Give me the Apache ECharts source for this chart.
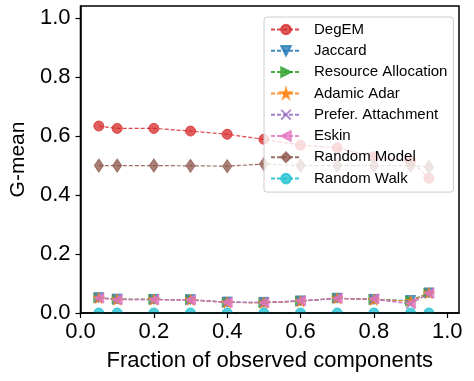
<!DOCTYPE html>
<html><head><meta charset="utf-8">
<script src="https://cdn.jsdelivr.net/npm/echarts@6/dist/echarts.min.js"></script>
<style>html,body{margin:0;padding:0;background:#fff}#c{width:474px;height:381px}</style>
</head><body><div id="c"></div>
<script>
const xValues = [0.05, 0.1, 0.2, 0.3, 0.4, 0.5, 0.6, 0.7, 0.8, 0.9, 0.95];
const degem = [0.634, 0.626, 0.626, 0.617, 0.606, 0.589, 0.569, 0.560, 0.530, 0.516, 0.457];
const jaccard = [0.052, 0.047, 0.046, 0.045, 0.037, 0.036, 0.041, 0.050, 0.046, 0.042, 0.068];
const resourceAllocation = [0.051, 0.046, 0.046, 0.045, 0.036, 0.035, 0.040, 0.050, 0.045, 0.041, 0.068];
const adamicAdar = [0.051, 0.046, 0.046, 0.045, 0.036, 0.035, 0.040, 0.050, 0.045, 0.041, 0.068];
const preferAttachment = [0.051, 0.046, 0.045, 0.044, 0.036, 0.036, 0.040, 0.050, 0.047, 0.030, 0.067];
const eskin = [0.051, 0.045, 0.045, 0.044, 0.036, 0.035, 0.042, 0.049, 0.048, 0.033, 0.067];
const randomModel = [0.500, 0.500, 0.500, 0.499, 0.498, 0.505, 0.500, 0.500, 0.500, 0.500, 0.495];
const randomWalk = [0, 0, 0, 0, 0, 0, 0, 0, 0, 0, 0];
const xTicks = [0, 0.2, 0.4, 0.6, 0.8, 1.0];
const yTicks = [0, 0.2, 0.4, 0.6, 0.8, 1.0];

const STAR = 'path://M50,0L61,35L98,35L68,57L79,91L50,70L21,91L32,57L2,35L39,35Z';
const XMARK = 'path://M0,0L10,10M10,0L0,10';

function mk(name, data, color, symbol, size, rotate, extra) {
  const s = {
    name: name, type: 'line',
    data: xValues.map((x, i) => [x, data[i]]),
    symbol: symbol, symbolSize: size, symbolRotate: rotate || 0,
    showAllSymbol: true,
    lineStyle: { color: color, width: 1.2, type: [4, 2], opacity: 0.85 },
    itemStyle: { color: color, borderColor: color, borderWidth: 1, opacity: 0.75 },
    emphasis: { disabled: true },
    animation: false
  };
  if (extra) Object.assign(s.itemStyle, extra);
  return s;
}

const chart = echarts.init(document.getElementById('c'), null, { renderer: 'canvas' });
chart.setOption({
  animation: false,
  textStyle: { fontFamily: 'Liberation Sans, Arial, sans-serif' },
  grid: { left: 76, right: 15, top: 6, bottom: 68, show: true, borderColor: '#000', borderWidth: 1.5, backgroundColor: 'transparent' },
  xAxis: {
    type: 'value', min: 0, max: 1.032, z: 200,
    name: 'Fraction of observed components', nameLocation: 'middle', nameGap: 37,
    nameTextStyle: { fontSize: 22, color: '#000', fontFamily: 'Liberation Sans' },
    axisLine: { show: true, lineStyle: { color: '#000', width: 1.5 } },
    axisTick: { show: true, length: 5, lineStyle: { color: '#000', width: 1.2 }, customValues: xTicks },
    axisLabel: { fontSize: 22, color: '#000', margin: 8, fontFamily: 'Liberation Sans', customValues: xTicks, formatter: v => v.toFixed(1) },
    splitLine: { show: false }
  },
  yAxis: {
    type: 'value', min: 0, max: 1.041, z: 200,
    name: 'G-mean', nameLocation: 'middle', nameGap: 51, nameRotate: 90,
    nameTextStyle: { fontSize: 21, color: '#000', fontFamily: 'Liberation Sans' },
    axisLine: { show: true, lineStyle: { color: '#000', width: 1.5 } },
    axisTick: { show: true, length: 5, lineStyle: { color: '#000', width: 1.2 }, customValues: yTicks },
    axisLabel: { fontSize: 22, color: '#000', margin: 10, fontFamily: 'Liberation Sans', customValues: yTicks, formatter: v => v.toFixed(1) },
    splitLine: { show: false }
  },
  legend: {
    orient: 'vertical', left: 264, top: 17,
    padding: [5, 6, 6, 6], itemGap: 6.3, itemWidth: 30, itemHeight: 12,
    backgroundColor: 'rgba(255,255,255,0.8)', borderColor: '#cccccc', borderWidth: 1, borderRadius: 3,
    textStyle: { fontSize: 15, color: '#000', lineHeight: 15, padding: [0, 0, 0, 8], fontFamily: 'Liberation Sans' },
    z: 50
  },
  graphic: [{
    type: 'rect', z: 100, silent: true,
    shape: { x: 77, y: 314, width: 381, height: 6 },
    style: { fill: '#fff' }
  }],
  series: [
    mk('DegEM', degem, '#d62728', 'circle', 10),
    mk('Jaccard', jaccard, '#1f77b4', 'triangle', 10, 180),
    mk('Resource Allocation', resourceAllocation, '#2ca02c', 'triangle', 10, -90),
    mk('Adamic Adar', adamicAdar, '#ff7f0e', STAR, 11),
    mk('Prefer. Attachment', preferAttachment, '#9467bd', XMARK, 9, 0, { borderWidth: 1.5 }),
    mk('Eskin', eskin, '#e377c2', 'triangle', 10, 90),
    mk('Random Model', randomModel, '#8c564b', 'diamond', [9, 13]),
    mk('Random Walk', randomWalk, '#17becf', 'circle', 10)
  ]
});
</script>
</body></html>
